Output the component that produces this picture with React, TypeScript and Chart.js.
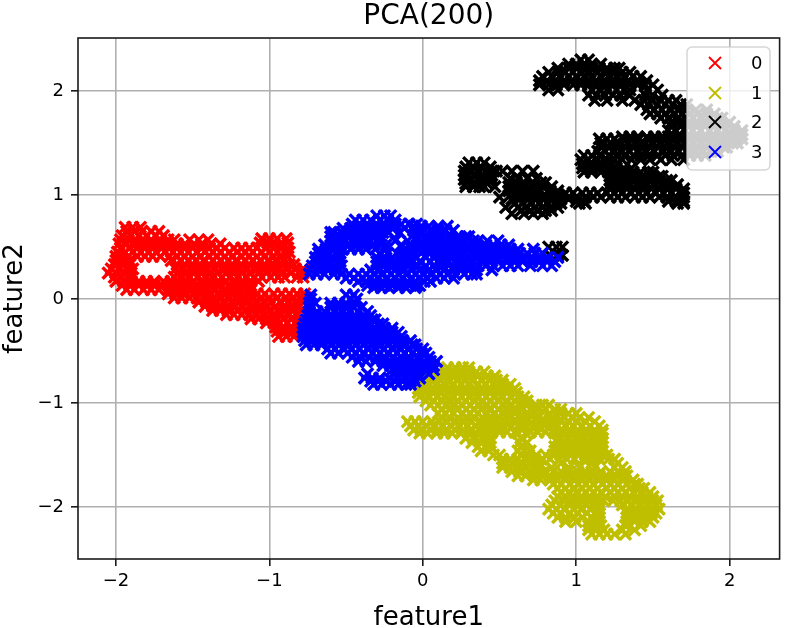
import React, { useEffect, useRef } from "react";
import { Chart, registerables } from "chart.js";

Chart.register(...registerables);

const chartTitle = "PCA(200)";
const xLabel = "feature1";
const yLabel = "feature2";
const xTicks = [-2, -1, 0, 1, 2];
const yTicks = [-2, -1, 0, 1, 2];
const seriesNames = ["0", "1", "2", "3"];
const seriesColors = ["#ff0000", "#bfbf00", "#000000", "#0000ff"];

// each row: [feature2, [feature1 values read along that height]]
const series0Rows: [number, number[]][] = [
  [.69, [-1.94, -1.89, -1.84]],
  [.65, [-1.93, -1.88, -1.83, -1.77, -1.72]],
  [.61, [-1.96, -1.91, -1.85, -1.80, -1.74, -1.69]],
  [.58, [-1.05, -1.00, -.95, -.89]],
  [.57, [-1.97, -1.92, -1.87, -1.82, -1.77, -1.71, -1.66, -1.62, -1.52, -1.46, -1.40]],
  [.54, [-1.06, -1.01, -.97, -.92, -.88]],
  [.53, [-1.98, -1.93, -1.87, -1.82, -1.77, -1.71, -1.66, -1.60, -1.55, -1.49, -1.44, -1.38, -1.32]],
  [.49, [-1.97, -1.91, -1.86, -1.81, -1.76, -1.70, -1.65, -1.60, -1.55, -1.50, -1.44, -1.39, -1.34, -1.29, -1.23, -1.18, -1.13, -1.08, -1.02, -.97, -.92, -.88]],
  [.45, [-1.99, -1.94, -1.89, -1.84, -1.79, -1.74, -1.68, -1.63, -1.58, -1.53, -1.47, -1.42, -1.37, -1.32, -1.26, -1.21, -1.16, -1.11, -1.05, -1.00, -.95, -.90, -.87]],
  [.41, [-2.00, -1.97, -1.92, -1.86, -1.81, -1.76, -1.71, -1.65, -1.60, -1.55, -1.50, -1.45, -1.39, -1.34, -1.29, -1.24, -1.18, -1.13, -1.08, -1.03, -.97, -.92, -.88]],
  [.37, [-2.00, -1.96, -1.91, -1.64, -1.58, -1.53, -1.48, -1.43, -1.37, -1.32, -1.27, -1.22, -1.16, -1.11, -1.06, -1.01, -.96, -.91]],
  [.33, [-2.01, -1.96, -1.91, -1.60, -1.55, -1.50, -1.45, -1.39, -1.34, -1.29, -1.24, -1.18, -1.13, -1.08, -1.03, -.97, -.92, -.87, -.84]],
  [.29, [-2.03, -1.98, -1.93, -1.89, -1.61, -1.56, -1.50, -1.45, -1.40, -1.35, -1.29, -1.24, -1.19, -1.14, -1.08, -1.03, -.98, -.93, -.88, -.83, -.78]],
  [.25, [-2.05, -2.00, -1.94, -1.90, -1.60, -1.55, -1.49, -1.44, -1.39, -1.34, -1.28, -1.23, -1.18, -1.13, -1.07, -1.02, -.97, -.92, -.86, -.81, -.78]],
  [.21, [-2.01, -1.96, -1.90, -1.62, -1.58, -1.53, -1.47, -1.42, -1.37, -1.31, -1.26, -1.21, -1.15, -1.10, -1.05, -.99, -.94, -.90, -.82, -.78]],
  [.17, [-2.00, -1.95, -1.90, -1.85, -1.80, -1.75, -1.69, -1.64, -1.59, -1.54, -1.49, -1.43, -1.38, -1.33, -1.28, -1.22, -1.17, -1.12, -1.07]],
  [.13, [-1.96, -1.91, -1.85, -1.80, -1.75, -1.70, -1.64, -1.59, -1.54, -1.48, -1.43, -1.38, -1.33, -1.27, -1.22, -1.17, -1.12]],
  [.09, [-1.93, -1.88, -1.82, -1.77, -1.72, -1.66, -1.61, -1.56, -1.51, -1.45, -1.40, -1.35, -1.29, -1.24, -1.19, -1.13]],
  [.05, [-1.66, -1.61, -1.56, -1.50, -1.45, -1.40, -1.34, -1.29, -1.24, -1.19, -1.13, -1.08, -1.03, -.97, -.92, -.87, -.82, -.77]],
  [.01, [-1.62, -1.57, -1.52, -1.47, -1.41, -1.36, -1.31, -1.26, -1.20, -1.15, -1.10, -1.05, -1.00, -.95, -.89, -.84, -.79, -.76]],
  [-.03, [-1.46, -1.41, -1.36, -1.30, -1.25, -1.20, -1.15, -1.09, -1.04, -.99, -.93, -.88, -.83, -.78]],
  [-.07, [-1.42, -1.37, -1.32, -1.27, -1.22, -1.17, -1.11, -1.06, -1.01, -.96, -.90, -.85, -.80]],
  [-.11, [-1.37, -1.32, -1.27, -1.21, -1.16, -1.11, -1.06, -1.00, -.95, -.90, -.85, -.79]],
  [-.15, [-1.28, -1.23, -1.18, -1.13, -1.08, -1.03, -.97, -.92, -.87, -.82]],
  [-.19, [-1.12, -1.07, -1.02, -.97, -.91, -.86, -.80]],
  [-.23, [-1.02, -.97, -.93, -.88, -.83, -.80]],
  [-.27, [-.96, -.91, -.86, -.81]],
  [-.31, [-.95, -.90, -.85, -.82]],
  [-.36, [-.94, -.89, -.84]],
];

const series1Rows: [number, number[]][] = [
  [-.66, [.16, .21, .26, .30]],
  [-.70, [.10, .15, .20, .25, .30, .35, .40]],
  [-.74, [.05, .10, .15, .21, .26, .31, .36, .42, .47]],
  [-.78, [.00, .05, .11, .16, .22, .27, .32, .38, .43, .48, .52]],
  [-.82, [-.01, .04, .09, .15, .20, .25, .30, .36, .41, .46, .52, .57]],
  [-.86, [-.03, .02, .07, .13, .18, .23, .28, .34, .39, .44, .49, .55, .60]],
  [-.90, [-.03, .02, .07, .12, .18, .23, .28, .34, .39, .44, .50, .55, .61]],
  [-.94, [-.02, .03, .09, .14, .19, .25, .30, .35, .41, .46, .51, .57, .62, .66]],
  [-.98, [.02, .07, .13, .18, .23, .28, .34, .39, .44, .50, .55, .60, .65, .68]],
  [-1.02, [.05, .10, .16, .21, .26, .31, .37, .42, .47, .53, .58, .63, .68, .74, .78, .82]],
  [-1.06, [.12, .17, .22, .28, .33, .38, .43, .49, .54, .59, .65, .70, .75, .80, .86, .90]],
  [-1.10, [.10, .15, .20, .26, .31, .36, .42, .47, .52, .60, .90, .95, 1.00]],
  [-1.12, [.55, .64, .70, .76, .82, .87]],
  [-1.14, [.12, .17, .23, .28, .33, .39, .44, .50, .57, .66, .74, .85, .92, .97, 1.02, 1.08]],
  [-1.16, [.48, .53, .60, .69, .78, .83, .90]],
  [-1.18, [-.10, -.05, .00, .06, .11, .16, .22, .27, .32, .38, .44, .95, 1.00, 1.06, 1.12]],
  [-1.20, [.47, .56, .65, .70, .78, .84]],
  [-1.22, [-.08, -.03, .02, .07, .13, .18, .23, .29, .34, .39, .42, .52, .62, .72, .88, .93, .98, 1.04, 1.09, 1.15]],
  [-1.24, [.46, .50, .57, .66, .76, .82]],
  [-1.26, [-.06, -.01, .05, .10, .15, .21, .26, .31, .37, .40, .85, .91, .96, 1.01, 1.06, 1.12, 1.17]],
  [-1.28, [.45, .50, .55, .60, .70, .75, .80]],
  [-1.29, [-.02, .03, .09, .14, .19, .25, .30, .35, .41, .62, .67, .86, .91, .97, 1.02, 1.07, 1.13, 1.17]],
  [-1.34, [.28, .33, .39, .44, .64, .88, .94, .99, 1.04, 1.10, 1.15, 1.17]],
  [-1.38, [.32, .38, .44, .63, .68, .88, .93, .98, 1.04, 1.09, 1.14, 1.17]],
  [-1.42, [.36, .41, .44, .64, .86, .92, .97, 1.02, 1.08, 1.13, 1.17]],
  [-1.46, [.38, .43, .62, .66, .70, .86, .91, .97, 1.02, 1.07, 1.13, 1.17]],
  [-1.50, [.46, .50, .64, .69, .74, .80, .85, .90, .96, 1.01, 1.06, 1.12, 1.17, 1.20]],
  [-1.54, [.52, .57, .62, .68, .73, .78, .83, .89, .94, .99, 1.05, 1.10, 1.15, 1.21, 1.25]],
  [-1.58, [.52, .58, .63, .69, .74, .76, .90, 1.10, 1.27]],
  [-1.62, [.52, .57, .63, .68, .73, .76, .84, .95, 1.02, 1.12, 1.25, 1.30]],
  [-1.66, [.58, .63, .69, .74, .79, .85, .90, .95, 1.01, 1.06, 1.11, 1.16, 1.22, 1.27, 1.32]],
  [-1.70, [.62, .67, .73, .78, .83, .89, .94, .99, 1.05, 1.10, 1.15, 1.20, 1.26, 1.31, 1.33]],
  [-1.74, [.72, .77, .83, .88, .93, .99, 1.04, 1.09, 1.15, 1.20, 1.25, 1.31, 1.37]],
  [-1.78, [.85, .90, .96, 1.01, 1.06, 1.11, 1.17, 1.22, 1.27, 1.33, 1.38, 1.40]],
  [-1.82, [.88, .93, .99, 1.04, 1.09, 1.14, 1.20, 1.25, 1.30, 1.35, 1.41, 1.44]],
  [-1.86, [.90, .95, 1.00, 1.06, 1.11, 1.16, 1.22, 1.27, 1.32, 1.37, 1.43, 1.48]],
  [-1.90, [.88, .93, .98, 1.03, 1.09, 1.14, 1.19, 1.25, 1.30, 1.35, 1.40, 1.46, 1.50]],
  [-1.94, [.86, .92, .96, 1.03, 1.08, 1.13, 1.18, 1.24, 1.29, 1.34, 1.40, 1.45, 1.50, 1.53]],
  [-1.98, [.84, .90, .96, 1.02, 1.07, 1.12, 1.15, 1.30, 1.36, 1.41, 1.46, 1.52]],
  [-2.02, [.82, .87, .92, .98, 1.03, 1.09, 1.15, 1.33, 1.38, 1.44, 1.49, 1.54]],
  [-2.06, [.85, .90, .96, 1.01, 1.07, 1.12, 1.15, 1.33, 1.39, 1.44, 1.49, 1.52]],
  [-2.10, [.88, .93, .99, 1.04, 1.10, 1.15, 1.33, 1.39, 1.44, 1.50]],
  [-2.14, [.93, 1.00, 1.08, 1.12, 1.15, 1.33, 1.38, 1.43, 1.48]],
  [-2.18, [1.08, 1.12, 1.16, 1.32, 1.42]],
  [-2.22, [1.08, 1.13, 1.18, 1.30, 1.38]],
  [-2.26, [1.10, 1.15, 1.20, 1.25, 1.32]],
];

const series2Rows: [number, number[]][] = [
  [2.30, [1.03, 1.08]],
  [2.26, [.95, 1.00, 1.05, 1.10, 1.16]],
  [2.22, [.88, .95, 1.00, 1.05, 1.10, 1.15, 1.20, 1.25, 1.28]],
  [2.18, [.82, .88, .93, .98, 1.04, 1.09, 1.14, 1.20, 1.25, 1.30, 1.35]],
  [2.14, [.78, .84, .89, .95, 1.00, 1.05, 1.10, 1.16, 1.21, 1.26, 1.31, 1.37, 1.42]],
  [2.10, [.76, .81, .87, .92, .97, 1.03, 1.08, 1.13, 1.18, 1.24, 1.29, 1.34, 1.40, 1.46]],
  [2.06, [.76, .82, .87, .92, .98, 1.03, 1.08, 1.14, 1.19, 1.24, 1.29, 1.35, 1.40, 1.45, 1.50]],
  [2.01, [.82, .88, 1.10, 1.15, 1.20, 1.26, 1.31, 1.35, 1.46, 1.53]],
  [1.96, [1.08, 1.13, 1.19, 1.24, 1.29, 1.35, 1.45, 1.50, 1.56]],
  [1.91, [1.12, 1.20, 1.30, 1.38, 1.44, 1.49, 1.55, 1.60, 1.65]],
  [1.87, [1.42, 1.47, 1.53, 1.58, 1.63, 1.68, 1.72]],
  [1.82, [1.46, 1.51, 1.56, 1.62, 1.67, 1.72, 1.78, 1.85]],
  [1.78, [1.48, 1.53, 1.58, 1.64, 1.69, 1.74, 1.79, 1.85, 1.90]],
  [1.74, [1.55, 1.60, 1.66, 1.71, 1.76, 1.82, 1.87, 1.92, 1.95]],
  [1.70, [1.62, 1.67, 1.73, 1.78, 1.83, 1.89, 1.94, 2.00]],
  [1.66, [1.62, 1.68, 1.73, 1.79, 1.84, 1.90, 1.95, 2.03]],
  [1.62, [1.60, 1.65, 1.71, 1.76, 1.81, 1.87, 1.92, 1.97, 2.03, 2.08]],
  [1.58, [1.62, 1.67, 1.73, 1.78, 1.84, 1.89, 1.94, 2.00, 2.05, 2.08]],
  [1.56, [1.30, 1.35, 1.40, 1.46, 1.51, 1.56, 1.60]],
  [1.54, [1.15, 1.20, 1.25, 1.31, 1.36, 1.41, 1.47, 1.52, 1.57, 1.62, 1.68, 1.73, 1.78, 1.84, 1.89, 1.94, 2.00, 2.05, 2.08]],
  [1.50, [1.16, 1.22, 1.27, 1.33, 1.38, 1.43, 1.49, 1.54, 1.59, 1.65, 1.70, 1.75, 1.81, 1.86, 1.91, 1.97, 2.02, 2.05]],
  [1.46, [1.16, 1.21, 1.27, 1.32, 1.37, 1.43, 1.48, 1.53, 1.58, 1.64, 1.69, 1.74, 1.80, 1.85, 1.90, 1.96, 1.98]],
  [1.42, [1.14, 1.19, 1.25, 1.30, 1.35, 1.41, 1.46, 1.51, 1.57, 1.62, 1.67, 1.73, 1.78, 1.83, 1.88, 1.92]],
  [1.38, [1.05, 1.10, 1.15, 1.21, 1.26, 1.31, 1.37, 1.42, 1.47, 1.53, 1.58, 1.63, 1.69, 1.74, 1.79, 1.84]],
  [1.34, [1.03, 1.08, 1.14, 1.20, 1.25, 1.30, 1.36, 1.42, 1.48, 1.55, 1.62, 1.70]],
  [1.30, [1.04, 1.09, 1.15, 1.20, 1.27]],
  [1.26, [1.04, 1.10, 1.15, 1.21, 1.26, 1.31, 1.36]],
  [1.22, [1.05, 1.10, 1.16, 1.21, 1.26, 1.31, 1.37, 1.42, 1.47, 1.50]],
  [1.18, [1.22, 1.27, 1.32, 1.38, 1.43, 1.48, 1.54, 1.56]],
  [1.14, [1.22, 1.27, 1.33, 1.38, 1.43, 1.49, 1.54, 1.59, 1.62]],
  [1.10, [1.22, 1.28, 1.33, 1.39, 1.44, 1.50, 1.55, 1.60, 1.66]],
  [1.06, [1.22, 1.28, 1.33, 1.38, 1.44, 1.49, 1.54, 1.60, 1.65, 1.70]],
  [1.02, [.93, .98, 1.04, 1.09, 1.14, 1.20, 1.25, 1.30, 1.36, 1.41, 1.46, 1.52, 1.57, 1.62, 1.68, 1.70]],
  [.98, [.95, 1.00, 1.06, 1.11, 1.16, 1.22, 1.27, 1.32, 1.38, 1.43, 1.48, 1.54, 1.59, 1.64, 1.70]],
  [.94, [1.00, 1.05, 1.60, 1.65, 1.70]],
  [.92, [1.02, 1.06, 1.66, 1.70]],
  [1.31, [.30, .35, .40]],
  [1.27, [.28, .33, .38, .44]],
  [1.23, [.27, .32, .37, .42, .45, .48, .52, .58, .65, .72]],
  [1.19, [.27, .33, .38, .43, .45]],
  [1.16, [.57, .62, .68, .74]],
  [1.15, [.27, .32, .38, .43, .45]],
  [1.12, [.56, .61, .66, .72, .77, .80]],
  [1.11, [.28, .33, .38, .42]],
  [1.08, [.28, .33, .37, .40, .47, .56, .61, .66, .72, .78, .84]],
  [1.04, [.56, .61, .67, .72, .77, .83, .88]],
  [1.00, [.57, .62, .68, .73, .79, .84, .88, .92]],
  [.98, [.50]],
  [.96, [.58, .63, .69, .74, .79, .85, .90, .95]],
  [.92, [.60, .65, .71, .76, .81, .87, .90]],
  [.88, [.54, .62, .67, .73, .78, .83, .88]],
  [.85, [.64, .70, .75, .80, .84]],
  [.82, [.58, .66, .72, .78]],
  [.50, [.82, .87, .91]],
  [.42, [.83, .88, .91]],
];

const series3Rows: [number, number[]][] = [
  [.80, [-.30, -.25, -.21]],
  [.76, [-.44, -.39, -.34, -.28, -.23, -.18]],
  [.72, [-.46, -.41, -.36, -.30, -.25, -.20, -.18, -.14, -.09, -.04]],
  [.70, [-.06, -.01, .04, .10, .16]],
  [.68, [-.52, -.47, -.42, -.36, -.31, -.26, -.20, -.12]],
  [.66, [-.06, -.01, .05, .10, .15, .20]],
  [.64, [-.60, -.58, -.53, -.47, -.42, -.37, -.31, -.26, -.22, -.15]],
  [.60, [-.60, -.55, -.49, -.44, -.39, -.33, -.28, -.04, .02, .07, .12, .18, .23, .28, .30]],
  [.56, [-.60, -.55, -.50, -.44, -.39, -.34, -.28, -.18, -.10, -.04, .02, .07, .12, .18, .23, .28, .33, .36, .42, .49]],
  [.52, [-.64, -.59, -.54, -.48, -.43, -.38, -.32, -.27, -.24, -.14, -.08, -.02, .03, .09, .14, .19, .25, .30, .35, .41, .46, .51, .56]],
  [.48, [-.68, -.63, -.58, -.52, -.47, -.42, -.37, -.31, -.24, -.12, -.07, -.02, .04, .09, .14, .20, .25, .30, .36, .41, .46, .52, .57, .62, .72]],
  [.44, [-.68, -.63, -.57, -.54, -.28, -.23, -.17, -.12, -.07, -.01, .04, .09, .15, .20, .25, .31, .36, .41, .47, .52, .57, .63, .68, .73, .78]],
  [.40, [-.70, -.65, -.59, -.54, -.30, -.25, -.20, -.14, -.09, -.04, .02, .07, .12, .18, .23, .28, .34, .39, .44, .49, .55, .60, .65, .71, .76, .81, .88]],
  [.36, [-.70, -.65, -.60, -.54, -.30, -.25, -.19, -.14, -.09, -.02, .05, .12, .17, .23, .28, .33, .39, .44, .49, .55, .60, .65, .71, .76, .81, .86]],
  [.32, [-.72, -.67, -.61, -.53, -.30, -.25, -.19, -.14, -.09, -.03, .02, .07, .13, .25, .30, .36, .41, .46, .52, .57, .62, .70, .78, .84]],
  [.28, [-.73, -.68, -.62, -.57, -.54, -.34, -.28, -.23, -.18, -.12, -.07, -.02, .04, .09, .14, .20, .25, .30, .35, .45]],
  [.24, [-.74, -.69, -.64, -.58, -.53, -.48, -.42, -.37, -.32, -.27, -.21, -.16, -.11, -.05, .00, .05, .11, .16, .21, .27, .32, .35]],
  [.20, [-.50, -.45, -.39, -.34, -.29, -.23, -.18, -.13, -.07, -.02, .03, .09, .14, .20]],
  [.17, [-.42, -.37, -.31, -.26, -.21, -.15, -.10, -.05, .01, .05]],
  [.13, [-.36, -.31, -.25, -.20, -.15, -.09, -.04, -.02]],
  [.11, [-.32, -.27, -.22, -.16, -.11, -.05]],
  [.04, [-.73, -.50, -.45]],
  [.00, [-.73, -.47, -.43]],
  [-.04, [-.74, -.70, -.60, -.55, -.50, -.44]],
  [-.08, [-.74, -.60, -.55, -.50, -.45, -.40]],
  [-.12, [-.74, -.69, -.64, -.58, -.53, -.48, -.42, -.36]],
  [-.16, [-.75, -.70, -.65, -.59, -.54, -.49, -.44, -.38, -.34]],
  [-.20, [-.76, -.71, -.65, -.60, -.55, -.49, -.44, -.39, -.33, -.31]],
  [-.24, [-.77, -.72, -.66, -.61, -.56, -.50, -.45, -.40, -.34, -.29, -.26]],
  [-.28, [-.78, -.73, -.68, -.62, -.57, -.52, -.46, -.41, -.36, -.31, -.25, -.20]],
  [-.32, [-.78, -.73, -.68, -.62, -.57, -.52, -.46, -.41, -.36, -.30, -.25, -.20, -.16]],
  [-.36, [-.78, -.73, -.67, -.62, -.57, -.51, -.46, -.41, -.36, -.30, -.25, -.20, -.14]],
  [-.40, [-.77, -.72, -.66, -.61, -.56, -.50, -.45, -.40, -.35, -.29, -.24, -.19, -.13, -.08]],
  [-.44, [-.76, -.71, -.66, -.60, -.55, -.50, -.44, -.39, -.34, -.29, -.23, -.18, -.13, -.07, -.05]],
  [-.48, [-.62, -.57, -.51, -.46, -.41, -.35, -.30, -.25, -.19, -.14, -.09, -.04, .00]],
  [-.52, [-.60, -.55, -.49, -.44, -.39, -.33, -.28, -.23, -.17, -.12, -.07, -.01, .02]],
  [-.56, [-.46, -.41, -.35, -.30, -.25, -.19, -.14, -.09, -.03, .04]],
  [-.60, [-.42, -.37, -.31, -.26, -.21, -.15, -.10, -.05, .01, .05, .09]],
  [-.64, [-.26, -.21, -.15, -.10, -.05, .00, .05, .07]],
  [-.68, [-.20, -.15, -.09, -.04, .02, .07]],
  [-.72, [-.36, -.14, -.08, -.03, .04]],
  [-.76, [-.38, -.33, -.28, -.22, -.17, -.12, -.06, -.02]],
  [-.79, [-.34, -.29, -.24, -.18, -.13, -.08, -.05]],
  [-.82, [-.32, -.27, -.21, -.16, -.11, -.08]],
];

const seriesRows = [series0Rows, series1Rows, series2Rows, series3Rows];

const family = "'DejaVu Sans'";

const framePlugin = {
  id: "frameAndLegend",
  afterDatasetsDraw(chart: any) {
    const { ctx, chartArea: a } = chart;
    ctx.save();
    ctx.strokeStyle = "#1a1a1a";
    ctx.lineWidth = 1.6;
    ctx.strokeRect(a.left, a.top, a.right - a.left, a.bottom - a.top);

    // translucent legend, as in the reference: the marks show through it
    const bx = 687, by = 47, bw = 83, bh = 123, rr = 5;
    ctx.beginPath();
    ctx.roundRect(bx, by, bw, bh, rr);
    ctx.fillStyle = "rgba(255,255,255,0.8)";
    ctx.fill();
    ctx.strokeStyle = "rgba(204,204,204,0.8)";
    ctx.lineWidth = 1.5;
    ctx.stroke();
    const rows = [63, 93, 122, 152];
    seriesNames.forEach((name, i) => {
      const y = rows[i];
      ctx.strokeStyle = seriesColors[i];
      ctx.lineWidth = 1.8;
      ctx.beginPath();
      ctx.moveTo(709, y - 6);
      ctx.lineTo(721, y + 6);
      ctx.moveTo(721, y - 6);
      ctx.lineTo(709, y + 6);
      ctx.stroke();
      ctx.fillStyle = "#000";
      ctx.font = `18px ${family}`;
      ctx.textAlign = "left";
      ctx.textBaseline = "middle";
      ctx.fillText(name, 751, y + 1);
    });
    ctx.restore();
  },
};

function axisOptions(
  title: string,
  values: number[],
  min: number,
  max: number,
  titlePadding: any,
  tickPadding: number,
  fit: (s: any) => void,
) {
  return {
    type: "linear" as const,
    min,
    max,
    title: {
      display: true,
      text: title,
      color: "#000",
      font: { family, size: 26, lineHeight: 1 },
      padding: titlePadding,
    },
    grid: { color: "#b0b0b0", lineWidth: 1.6, tickColor: "#1a1a1a", tickLength: 7, drawTicks: true },
    border: { display: false },
    afterBuildTicks: (s: any) => {
      s.ticks = values.map((value) => ({ value }));
    },
    afterFit: fit,
    ticks: {
      color: "#000",
      font: { family, size: 18 },
      padding: tickPadding,
      maxRotation: 0,
      autoSkip: false,
      callback: (v: any) => String(v).replace("-", "\u2212"),
    },
  };
}

export default function App() {
  const ref = useRef<HTMLCanvasElement>(null);
  useEffect(() => {
    if (!ref.current) return;
    const chart = new Chart(ref.current, {
      type: "scatter",
      data: {
        datasets: seriesRows.map((rows, i) => ({
          label: seriesNames[i],
          data: rows.flatMap(([y, xs]) => xs.map((x) => ({ x, y }))),
          pointStyle: "crossRot",
          pointRadius: 8,
          pointHoverRadius: 8,
          pointBorderWidth: 3.4,
          borderColor: seriesColors[i],
          backgroundColor: seriesColors[i],
          showLine: false,
          clip: false as any,
          order: 3 - i,
        })),
      },
      options: {
        animation: false,
        responsive: false,
        devicePixelRatio: 1,
        layout: { padding: { left: 0, right: 4, top: 0, bottom: 0 } },
        plugins: {
          legend: { display: false },
          tooltip: { enabled: false },
          title: {
            display: true,
            text: chartTitle,
            color: "#000",
            fullSize: false,
            font: { family, size: 28, weight: "normal", lineHeight: 1.2 },
            padding: { top: 0, bottom: 4.4 },
          },
        },
        scales: {
          x: axisOptions(xLabel, xTicks, -2.247, 2.325, { top: 0, bottom: -3 }, 5, (s) => {
            s.height = 69;
            s.paddingRight = 0;
            s.paddingLeft = 0;
          }),
          y: axisOptions(yLabel, yTicks, -2.5, 2.51, { top: 2, bottom: 0 }, 7, (s) => {
            s.width = 78;
            s.paddingTop = 0;
            s.paddingBottom = 0;
          }),
        },
      },
      plugins: [framePlugin],
    } as any);
    return () => chart.destroy();
  }, []);
  return (
    <div style={{ position: "fixed", left: 0, top: 0, width: 785, height: 628, overflow: "hidden", background: "#fff" }}>
      <canvas ref={ref} width={791} height={628} style={{ display: "block" }} />
    </div>
  );
}
